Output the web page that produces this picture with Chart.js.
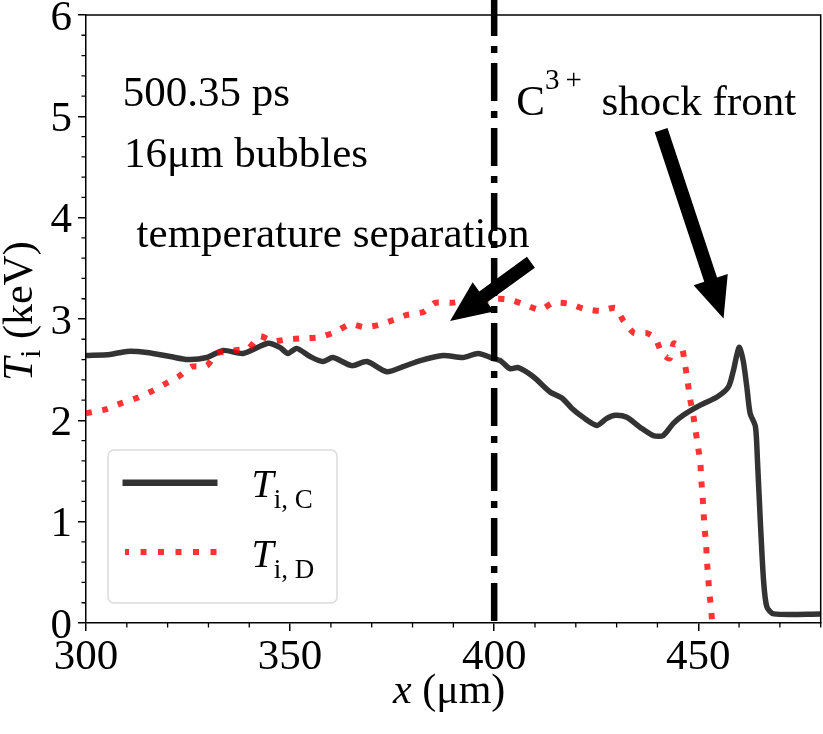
<!DOCTYPE html>
<html>
<head>
<meta charset="utf-8">
<script src="https://cdn.jsdelivr.net/npm/chart.js@4.4.1/dist/chart.umd.min.js"></script>
<style>
  html, body { margin: 0; padding: 0; background: #fff; }
</style>
</head>
<body>
<canvas id="grafico" width="823" height="734"></canvas>
<script>
// --- datos ---
const xC = [300, 305.9, 310, 314.9, 320.6, 325, 329.6, 333.6, 338.5, 344.6, 347.5, 349.5, 351.6, 354.9, 358, 360.5, 365.1, 368.8, 373.7, 377.7, 381.9, 387.5, 392.4, 396.1, 399.8, 401.5, 403.9, 405.9, 409.6, 413.7, 416.6, 419, 421.8, 425.2, 427.6, 429.7, 432.5, 435.8, 439, 441.4, 443.9, 446.3, 450.5, 454.6, 457.4, 458.6, 460, 461, 461.9, 462.7, 464, 464.5, 465.2, 466, 466.8, 468.5, 480];
const yC = [2.64, 2.65, 2.68, 2.67, 2.63, 2.60, 2.62, 2.69, 2.66, 2.76, 2.72, 2.66, 2.71, 2.63, 2.58, 2.62, 2.54, 2.58, 2.48, 2.53, 2.59, 2.64, 2.62, 2.66, 2.61, 2.59, 2.51, 2.52, 2.43, 2.28, 2.22, 2.12, 2.03, 1.95, 2.02, 2.05, 2.03, 1.93, 1.85, 1.85, 1.97, 2.05, 2.15, 2.23, 2.33, 2.49, 2.72, 2.59, 2.33, 2.07, 1.94, 1.61, 1.01, 0.42, 0.16, 0.09, 0.09];

const xD = [300, 305, 308.7, 312.4, 315.7, 319.4, 322.6, 325.9, 329.6, 332, 336.1, 339.8, 342.6, 345.9, 349.4, 353.3, 357.2, 361, 364.7, 368, 371.6, 375.3, 378.6, 382.7, 385.5, 389.6, 393.5, 397, 400.5, 403.9, 407.6, 411.3, 414.4, 418.5, 422, 426, 429.7, 431.7, 434.3, 437.4, 439.5, 441.1, 443, 444, 446, 446.8, 447.4, 447.9, 448.7, 449.3, 449.9, 450.5, 450.7, 451, 451.3, 451.5, 451.9, 452.1, 452.4, 452.7, 453.1, 453.4];
const yD = [2.07, 2.11, 2.17, 2.22, 2.28, 2.36, 2.43, 2.53, 2.54, 2.66, 2.69, 2.71, 2.83, 2.78, 2.80, 2.81, 2.82, 2.87, 2.95, 2.92, 2.94, 2.99, 3.04, 3.07, 3.16, 3.16, 3.18, 3.17, 3.20, 3.19, 3.14, 3.09, 3.16, 3.15, 3.10, 3.08, 3.11, 2.98, 2.86, 2.86, 2.81, 2.66, 2.61, 2.76, 2.71, 2.54, 2.39, 2.23, 2.07, 1.91, 1.75, 1.59, 1.44, 1.28, 1.11, 0.95, 0.80, 0.63, 0.47, 0.31, 0.16, 0.01];

const xTicks = [300, 350, 400, 450];
const yTicks = [0, 1, 2, 3, 4, 5, 6];
const xMinorStep = 10;
const yMinorStep = 0.2;

const vlineX = 400;

// flechas: [x cola, y cola, x punta, y punta] en unidades de datos
const arrowSep = [409.0, 3.56, 389.2, 2.98];
const arrowShock = [440.9, 4.865, 456.2, 3.005];

const SERIF = "'Liberation Serif', 'Times New Roman', serif";

function toPoints(xs, ys) {
    return xs.map((x, i) => ({ x: x, y: ys[i] }));
}

// dibuja trozos de texto seguidos (normal, cursiva, subíndice...)
function drawRuns(ctx, x, y, runs) {
    let cx = x;
    runs.forEach(r => {
        ctx.font = r.font;
        cx += r.gap || 0;
        ctx.fillText(r.text, cx, y + (r.dy || 0));
        cx += ctx.measureText(r.text).width;
    });
}

function drawArrow(ctx, x0, y0, x1, y1, shaftW, headW, headL) {
    const dx = x1 - x0, dy = y1 - y0;
    const len = Math.hypot(dx, dy);
    const ux = dx / len, uy = dy / len;
    const nx = -uy, ny = ux;
    const bx = x1 - ux * headL, by = y1 - uy * headL;
    ctx.beginPath();
    ctx.moveTo(x0 + nx * shaftW / 2, y0 + ny * shaftW / 2);
    ctx.lineTo(bx + nx * shaftW / 2, by + ny * shaftW / 2);
    ctx.lineTo(bx + nx * headW / 2, by + ny * headW / 2);
    ctx.lineTo(x1, y1);
    ctx.lineTo(bx - nx * headW / 2, by - ny * headW / 2);
    ctx.lineTo(bx - nx * shaftW / 2, by - ny * shaftW / 2);
    ctx.lineTo(x0 - nx * shaftW / 2, y0 - ny * shaftW / 2);
    ctx.closePath();
    ctx.fill();
}

const extras = {
    id: 'extras',
    afterDatasetsDraw(chart) {
        const ctx = chart.ctx;
        const xs = chart.scales.x, ys = chart.scales.y;
        const a = chart.chartArea;

        ctx.save();
        // línea vertical punto-raya
        const vx = xs.getPixelForValue(vlineX);
        ctx.strokeStyle = '#000';
        ctx.lineWidth = 6.5;
        ctx.setLineDash([38, 10, 7, 10]);
        ctx.lineDashOffset = 2;
        ctx.beginPath();
        ctx.moveTo(vx, 0);
        ctx.lineTo(vx, a.bottom);
        ctx.stroke();
        ctx.setLineDash([]);

        // flechas
        ctx.fillStyle = '#000';
        [arrowSep, arrowShock].forEach(ar => {
            drawArrow(ctx, xs.getPixelForValue(ar[0]), ys.getPixelForValue(ar[1]),
                xs.getPixelForValue(ar[2]), ys.getPixelForValue(ar[3]), 13.5, 36, 41);
        });

        // textos
        ctx.fillStyle = '#000';
        ctx.textBaseline = 'alphabetic';
        ctx.textAlign = 'left';
        ctx.font = '43px ' + SERIF;
        ctx.fillText('500.35 ps', xs.getPixelForValue(309.0), ys.getPixelForValue(5.10));
        ctx.fillText('16μm bubbles', xs.getPixelForValue(309.3), ys.getPixelForValue(4.50));
        ctx.fillText('temperature separation', xs.getPixelForValue(312.4), ys.getPixelForValue(3.71));
        drawRuns(ctx, xs.getPixelForValue(405.4), ys.getPixelForValue(5.01), [
            { text: 'C', font: '43px ' + SERIF },
            { text: '3', font: '29px ' + SERIF, dy: -26 },
            { text: '+', font: '29px ' + SERIF, dy: -26, gap: 6 }
        ]);
        ctx.font = '43px ' + SERIF;
        ctx.fillText('shock front', xs.getPixelForValue(426.3), ys.getPixelForValue(5.01));

        // etiquetas de los ejes
        ctx.font = '43px ' + SERIF;
        ctx.textAlign = 'center';
        xTicks.forEach(v => ctx.fillText(String(v), xs.getPixelForValue(v), a.bottom + 45.5));
        ctx.textAlign = 'right';
        yTicks.forEach(v => ctx.fillText(String(v), a.left - 14, ys.getPixelForValue(v) + 14.5));
        ctx.textAlign = 'left';

        // caja: lados superior y derecho
        ctx.strokeStyle = '#000';
        ctx.lineWidth = 1.5;
        ctx.beginPath();
        ctx.moveTo(a.left, a.top);
        ctx.lineTo(a.right, a.top);
        ctx.lineTo(a.right, a.bottom);
        ctx.stroke();

        // marcas menores
        ctx.lineWidth = 1.3;
        ctx.beginPath();
        for (let v = xs.min; v <= xs.max + 1e-6; v += xMinorStep) {
            if (xTicks.includes(Math.round(v))) continue;
            const px = xs.getPixelForValue(v);
            ctx.moveTo(px, a.bottom);
            ctx.lineTo(px, a.bottom + 4.5);
        }
        for (let v = ys.min; v <= ys.max + 1e-6; v += yMinorStep) {
            if (Math.abs(v - Math.round(v)) < 1e-6) continue;
            const py = ys.getPixelForValue(v);
            ctx.moveTo(a.left, py);
            ctx.lineTo(a.left - 4.5, py);
        }
        ctx.stroke();

        // títulos de ejes
        drawRuns(ctx, 393, 703, [
            { text: 'x', font: 'italic 42px ' + SERIF },
            { text: ' (μm)', font: '42px ' + SERIF }
        ]);
        ctx.save();
        ctx.translate(32, 381);
        ctx.rotate(-Math.PI / 2);
        drawRuns(ctx, 0, 0, [
            { text: 'T', font: 'italic 42px ' + SERIF },
            { text: 'i', font: '29px ' + SERIF, dy: 8 },
            { text: ' (keV)', font: '42px ' + SERIF }
        ]);
        ctx.restore();

        // leyenda
        const lg = { x: 108, y: 450, w: 229, h: 153, r: 6 };
        ctx.fillStyle = 'rgba(255,255,255,0.8)';
        ctx.strokeStyle = '#dcdcdc';
        ctx.lineWidth = 1.5;
        ctx.beginPath();
        ctx.roundRect(lg.x, lg.y, lg.w, lg.h, lg.r);
        ctx.fill();
        ctx.stroke();

        const dsC = chart.data.datasets[0], dsD = chart.data.datasets[1];
        ctx.lineCap = 'butt';
        ctx.strokeStyle = dsC.borderColor;
        ctx.lineWidth = 6.5;
        ctx.beginPath();
        ctx.moveTo(122.5, 482.7);
        ctx.lineTo(217.5, 482.7);
        ctx.stroke();
        ctx.strokeStyle = dsD.borderColor;
        ctx.lineWidth = 6;
        ctx.setLineDash([6, 11.5]);
        ctx.beginPath();
        ctx.moveTo(125, 552);
        ctx.lineTo(219, 552);
        ctx.stroke();
        ctx.setLineDash([]);

        ctx.fillStyle = '#000';
        drawRuns(ctx, 251.5, 496.7, [
            { text: 'T', font: 'italic 40px ' + SERIF },
            { text: 'i, C', font: '27px ' + SERIF, dy: 11 }
        ]);
        drawRuns(ctx, 251.5, 566.7, [
            { text: 'T', font: 'italic 40px ' + SERIF },
            { text: 'i, D', font: '27px ' + SERIF, dy: 11 }
        ]);
        ctx.restore();
    }
};

const ctx = document.getElementById('grafico');

new Chart(ctx, {
    type: 'line',
    data: {
        datasets: [{
            label: 'Ti,C',
            data: toPoints(xC, yC),
            borderColor: 'rgba(0,0,0,0.8)',
            borderWidth: 5.5,
            pointRadius: 0,
            tension: 0.25,
            order: 2
        }, {
            label: 'Ti,D',
            data: toPoints(xD, yD),
            borderColor: 'rgba(255,0,0,0.8)',
            borderWidth: 6,
            borderDash: [6, 10.5],
            borderCapStyle: 'butt',
            pointRadius: 0,
            tension: 0.2,
            order: 1
        }]
    },
    options: {
        responsive: false,
        devicePixelRatio: 1,
        animation: false,
        layout: { padding: { top: 15, right: 2.3, left: 0, bottom: 0 } },
        plugins: {
            legend: { display: false },
            tooltip: { enabled: false }
        },
        scales: {
            x: {
                type: 'linear',
                min: 300,
                max: 480,
                afterBuildTicks: s => { s.ticks = xTicks.map(v => ({ value: v })); },
                afterFit: s => { s.height = 111; },
                grid: { drawOnChartArea: false, drawTicks: true, tickLength: 8, color: '#000', lineWidth: 1.5 },
                border: { display: true, color: '#000', width: 1.5 },
                ticks: { display: false }
            },
            y: {
                type: 'linear',
                min: 0,
                max: 6,
                afterBuildTicks: s => { s.ticks = yTicks.map(v => ({ value: v })); },
                afterFit: s => { s.width = 86; },
                grid: { drawOnChartArea: false, drawTicks: true, tickLength: 8, color: '#000', lineWidth: 1.5 },
                border: { display: true, color: '#000', width: 1.5 },
                ticks: { display: false }
            }
        }
    },
    plugins: [extras]
});
</script>
</body>
</html>
